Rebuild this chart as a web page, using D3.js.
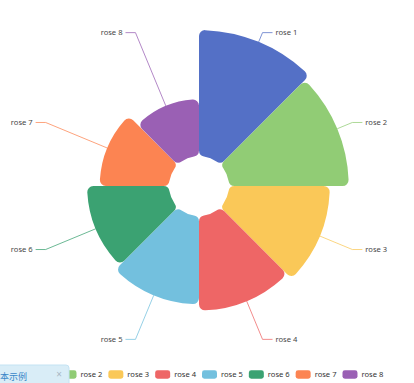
<!DOCTYPE html>
<html>
<head>
<meta charset="utf-8">
<script src="https://cdn.jsdelivr.net/npm/d3@7"></script>
<style>
  body { margin: 0; background: #fff; }
  svg { display: block; }
</style>
</head>
<body>
<div class="canvas"></div>
<script>
const names = ['rose 1', 'rose 2', 'rose 3', 'rose 4', 'rose 5', 'rose 6', 'rose 7', 'rose 8'];
const values = [40, 38, 32, 30, 28, 26, 22, 18];
const colours = ['#5470c6', '#91cc75', '#fac858', '#ee6666', '#73c0de', '#3ba272', '#fc8452', '#9a60b4'];

const dims = {width: 414, height: 383, inner: 30, outer: 156};
const cent = {x: 199, y: 186};
const font = "'Noto Sans', sans-serif";
const fontSize = 7.6;

const data = names.map((n, i) => ({name: n, value: values[i]}));

const svg = d3.select('.canvas')
    .append('svg')
    .attr('width', dims.width)
    .attr('height', dims.height);

const graph = svg.append('g')
    .attr('transform', `translate(${cent.x}, ${cent.y})`);

// rose type "area": equal angles, radius scales with value
const pie = d3.pie()
    .sort(null)
    .value(() => 1);

const rScale = d3.scaleLinear()
    .domain([0, d3.max(values)])
    .range([dims.inner, dims.outer]);

const arcPath = d3.arc()
    .innerRadius(dims.inner)
    .outerRadius(d => rScale(d.data.value))
    .cornerRadius(6);

const colour = d3.scaleOrdinal(colours).domain(names);

const arcs = pie(data);

graph.selectAll('path.arc')
    .data(arcs)
    .enter()
    .append('path')
    .attr('class', 'arc')
    .attr('d', arcPath)
    .attr('fill', d => colour(d.data.name));

// label lines
const len1 = 10, len2 = 10;
arcs.forEach(d => {
    const a = (d.startAngle + d.endAngle) / 2;
    const dx = Math.sin(a), dy = -Math.cos(a);
    const r = rScale(d.data.value);
    const p1 = [dx * r, dy * r];
    const p2 = [dx * (dims.outer + len1), dy * (dims.outer + len1)];
    const side = dx < 0 ? -1 : 1;
    const p3 = [p2[0] + side * len2, p2[1]];

    graph.append('path')
        .attr('d', d3.line()([p1, p2, p3]))
        .attr('fill', 'none')
        .attr('stroke', colour(d.data.name))
        .attr('stroke-opacity', 0.75)
        .attr('stroke-width', 1);

    graph.append('text')
        .attr('x', p3[0] + side * 3)
        .attr('y', p3[1])
        .attr('dy', '0.35em')
        .attr('text-anchor', side < 0 ? 'end' : 'start')
        .attr('font-family', font)
        .attr('font-size', fontSize)
        .attr('fill', '#464646')
        .text(d.data.name);
});

// legend along the bottom
const legend = svg.append('g');
const iconW = 15, iconH = 8.4, iconGap = 4, itemGap = 6;
let x = 0;
names.forEach(n => {
    const item = legend.append('g').attr('transform', `translate(${x}, 0)`);
    item.append('rect')
        .attr('y', -iconH / 2)
        .attr('width', iconW)
        .attr('height', iconH)
        .attr('rx', 2.4)
        .attr('fill', colour(n));
    const t = item.append('text')
        .attr('x', iconW + iconGap)
        .attr('dy', '0.35em')
        .attr('font-family', font)
        .attr('font-size', fontSize)
        .attr('fill', '#333')
        .text(n);
    x += iconW + iconGap + t.node().getComputedTextLength() + itemGap;
});
const legendW = x - itemGap;
legend.attr('transform', `translate(${cent.x - legendW / 2}, 374.5)`);

// page notice box over the corner
const note = svg.append('g').attr('transform', 'translate(0, 365)');
note.append('path')
    .attr('d', 'M-1,0 H66 Q69,0 69,3 V19 H-1 Z')
    .attr('fill', '#d9edf7')
    .attr('stroke', '#c4e3f3')
    .attr('stroke-width', 1);
note.append('text')
    .attr('x', 0)
    .attr('y', 12)
    .attr('dy', '0.35em')
    .attr('font-family', "'Noto Sans CJK SC', sans-serif")
    .attr('font-size', 9)
    .attr('fill', '#3a87c8')
    .text('本示例');
note.append('text')
    .attr('x', 59)
    .attr('y', 9)
    .attr('dy', '0.35em')
    .attr('text-anchor', 'middle')
    .attr('font-family', font)
    .attr('font-size', 10)
    .attr('fill', '#a9b8c4')
    .text('×');
</script>
</body>
</html>
